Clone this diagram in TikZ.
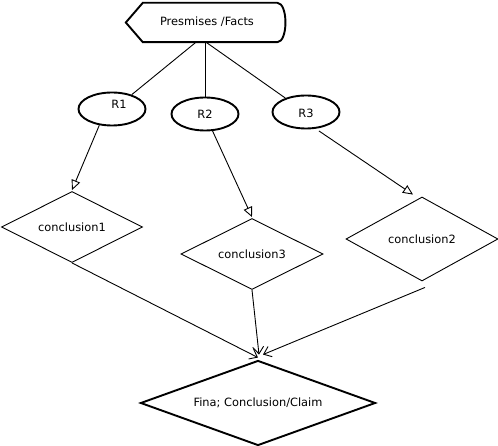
\documentclass[tikz,border=0pt]{standalone}
\usepackage{fontspec}
\setmainfont{DejaVu Sans}
\usetikzlibrary{shapes.geometric,arrows.meta}
\begin{document}
\begin{tikzpicture}[x=1pt,y=-1pt,
  font=\fontsize{11.4}{13}\selectfont,
  thinln/.style={line width=0.9pt},
  thickln/.style={line width=1.9pt},
  rule/.style={ellipse, draw, thickln, minimum width=67pt, minimum height=33pt, inner sep=0pt},
  concl/.style={diamond, draw, thinln, inner sep=0pt, aspect=2},
  opentri/.style={thinln, -{Triangle[open, length=10pt, width=9pt]}},
  barb/.style={thinln, -{Straight Barb[length=7pt, width=11pt]}}]
\fill[white] (0,0) rectangle (498,446);
\useasboundingbox (0,0) rectangle (498,446);

% premises (display shape)
\node[minimum width=134pt, minimum height=39pt, inner sep=0pt] (prem) at (210,22.5) {};
\node (premt) at (207,22) {Presmises /Facts};
\draw[thickln, line join=miter] (prem.north west) -- (prem.north east)
  .. controls ([xshift=11pt]prem.north east) and ([xshift=11pt]prem.south east) .. (prem.south east)
  -- (prem.south west) -- ([xshift=-17pt]prem.west) -- cycle;

% rules
\node[rule] (r1) at (112,109) {};
\node (r1t) at (119,104) {R1};
\node[rule] (r2) at (205,114) {};
\node (r2t) at (205,114) {R2};
\node[rule] (r3) at (306,112) {};
\node (r3t) at (306,113) {R3};

% conclusions
\node[concl, minimum width=141pt, minimum height=71pt] (c1) at (72,227) {conclusion1};
\node[concl, minimum width=142pt, minimum height=71pt] (c3) at (252,254) {conclusion3};
\node[concl, aspect=1.8, minimum width=152pt, minimum height=84pt] (c2) at (422,239) {conclusion2};
\node[diamond, draw, thickln, inner sep=0pt, aspect=2.76, minimum width=235pt, minimum height=85pt] (fin) at (258,403) {Fina; Conclusion/Claim};

% premises to rules
\draw[thinln] ([xshift=-14pt]prem.south) -- (r1.36);
\draw[thinln] ([xshift=-5pt]prem.south) -- (r2.north);
\draw[thinln] ([xshift=-4pt]prem.south) -- (r3.146);

% rules to conclusions
\coordinate (c1in) at ([yshift=1pt]c1.north);
\coordinate (c3in) at ([yshift=1pt]c3.north);
\coordinate (c2in) at ([xshift=-9pt,yshift=2pt]c2.north);
\draw[opentri] (r1.232) -- (c1in);
\draw[opentri] (r2.294) -- (c3in);
\draw[opentri, shorten <=4pt] (r3.300) -- (c2in);

% conclusions to final
\coordinate (f1) at ([yshift=2pt]fin.north);
\coordinate (f3) at ([xshift=1pt,yshift=5pt]fin.north);
\coordinate (f2) at ([xshift=5pt,yshift=5pt]fin.north);
\draw[barb] (c1.south) -- (f1);
\draw[barb] (c3.south) -- (f3);
\draw[barb] ([xshift=3pt,yshift=-6pt]c2.south) -- (f2);
\end{tikzpicture}
\end{document}
